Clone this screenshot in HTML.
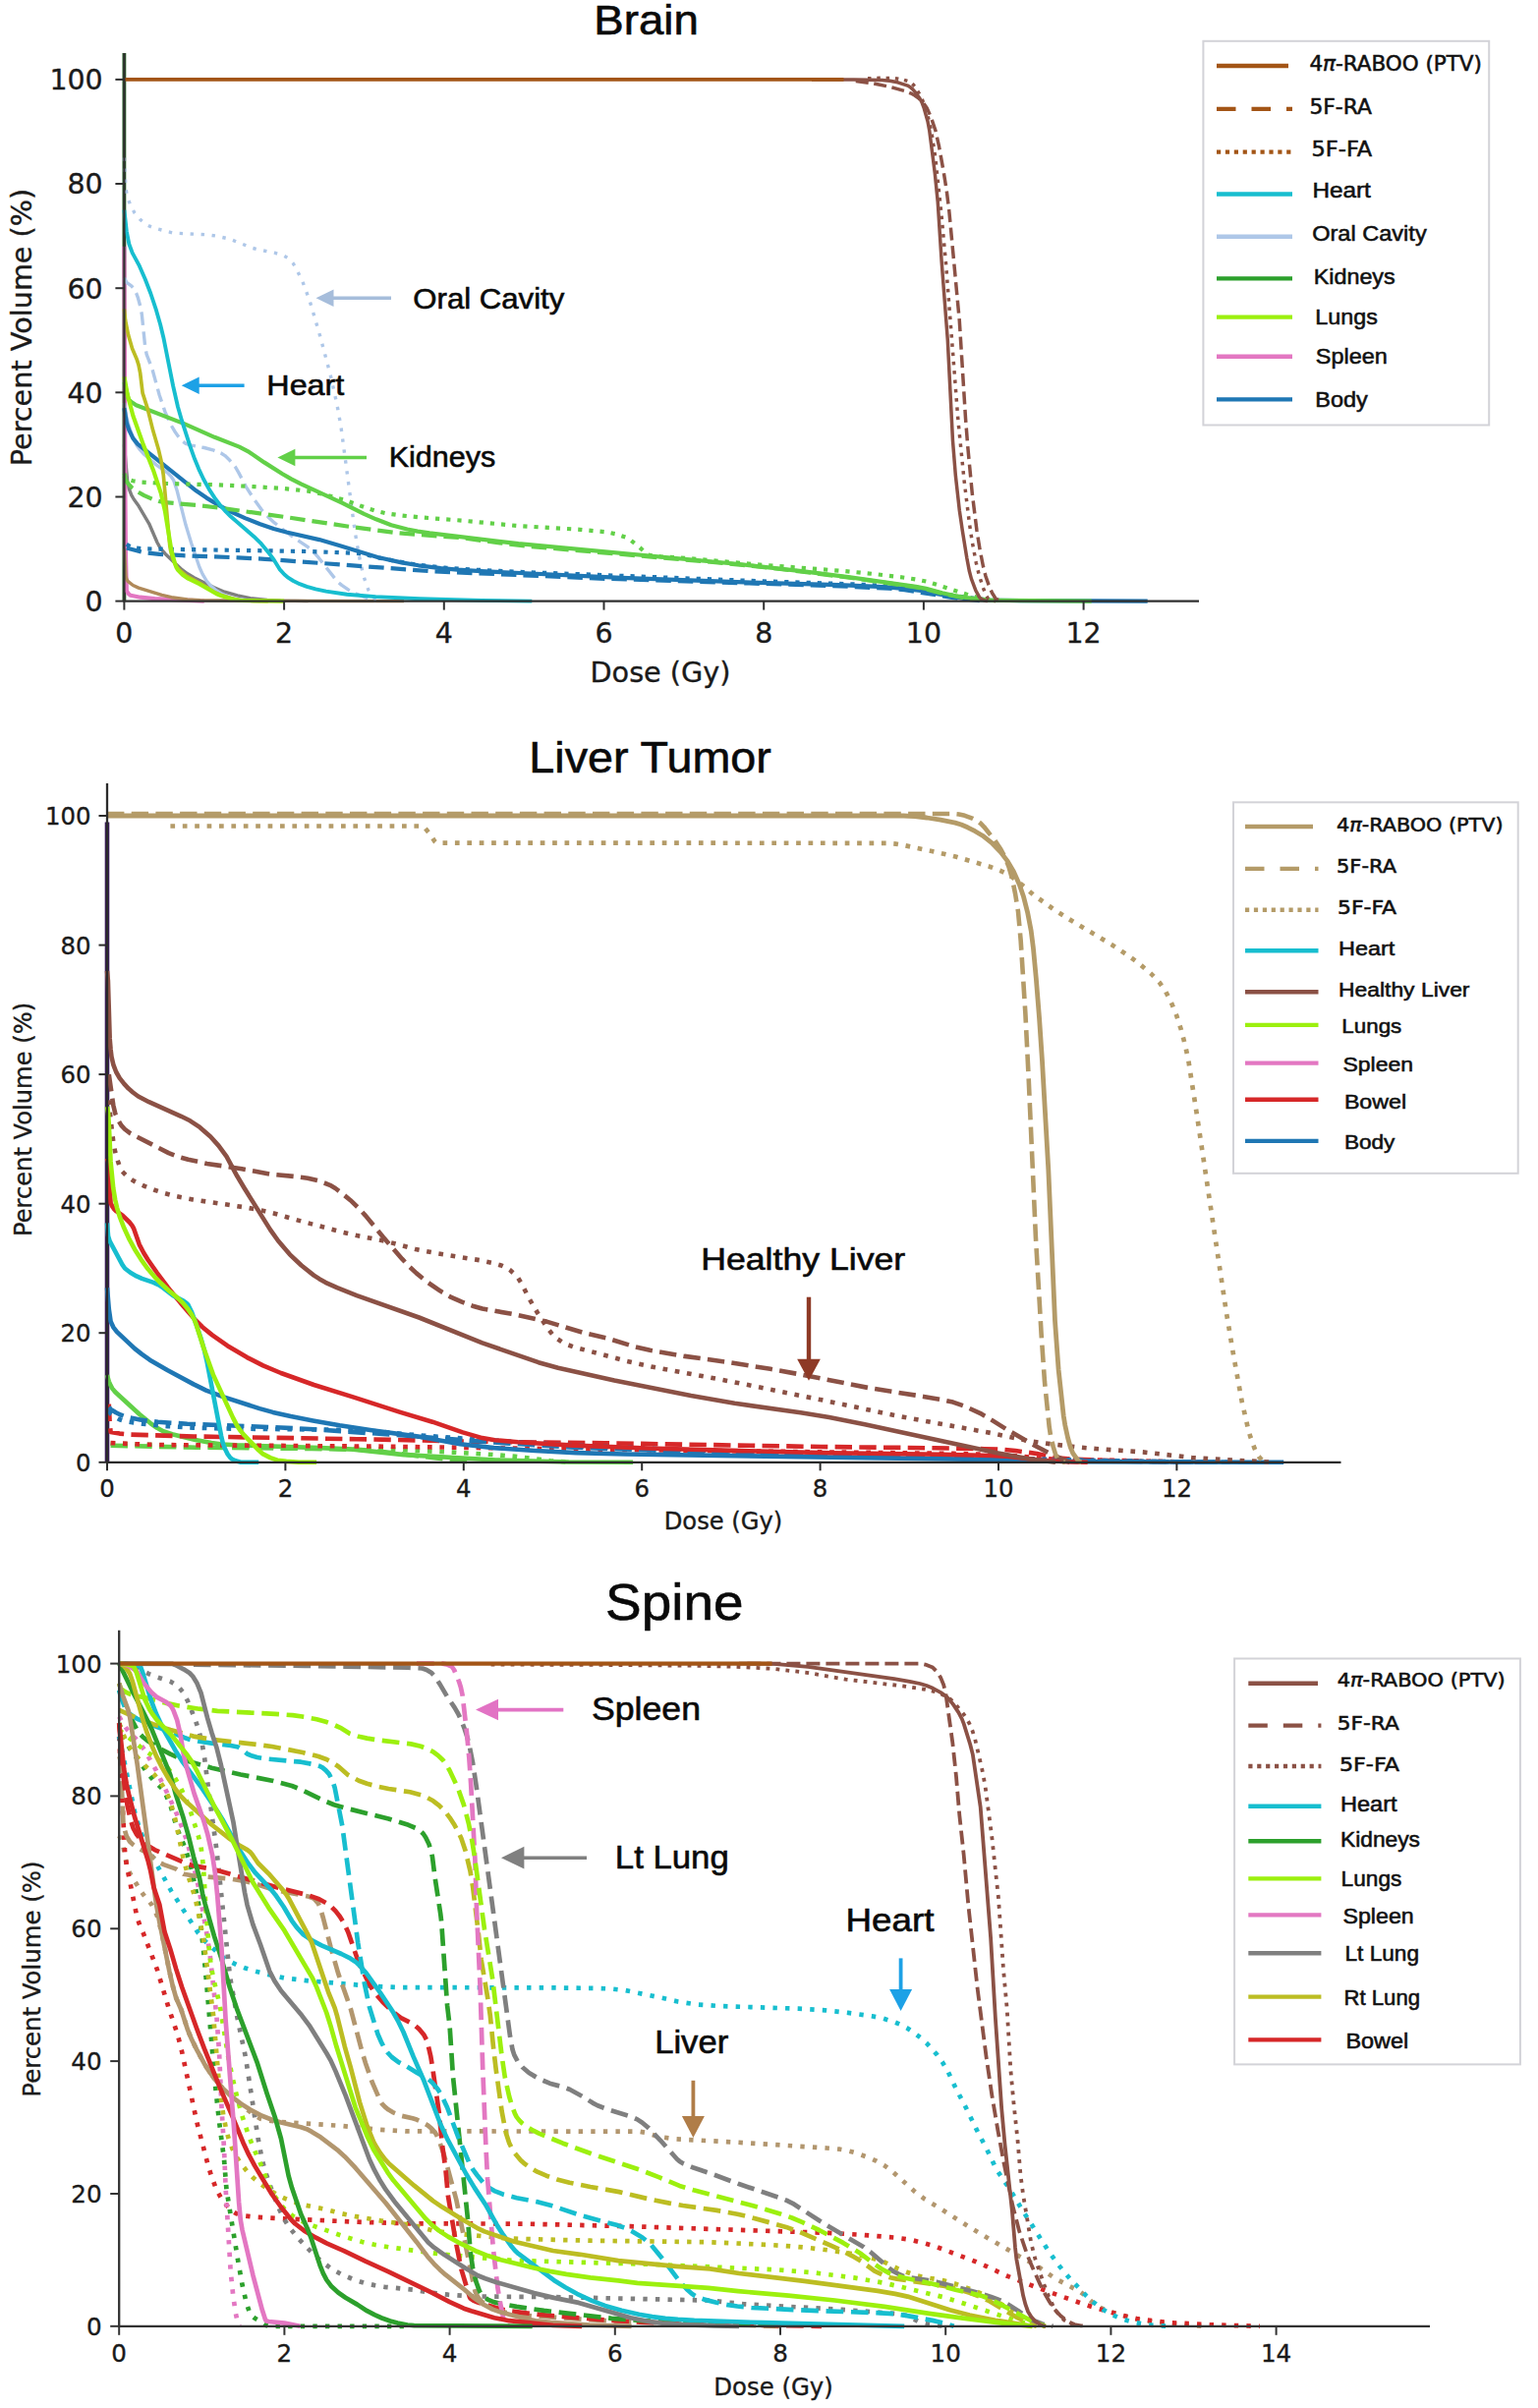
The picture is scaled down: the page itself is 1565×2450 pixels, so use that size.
<!DOCTYPE html>
<html lang="en">
<head>
<meta charset="utf-8">
<title>DVH comparison: Brain, Liver Tumor, Spine</title>
<style>
html,body{margin:0;padding:0;background:#fff;}
body{width:1565px;height:2450px;overflow:hidden;}
svg{display:block;}
text{white-space:pre;}
</style>
</head>
<body>
<svg width="1565" height="2450" viewBox="0 0 1565 2450">
<rect width="1565" height="2450" fill="#ffffff"/>
<path d="M126.4,54 V611.6" stroke="#256325" stroke-width="3.8"/>
<path d="M126.4,452.4 129.7,490.1 131.3,497.3 133.8,503.8 136.2,508 141.1,514.8 151.7,532.8 159.9,551.7 163,557.5 168.1,563.4 185.2,579.7 190.9,583.8 197.5,587.7 217.9,597.8 228.5,602.2 241.6,605.9 254.7,608.6 271.8,610.4 285.7,611.1 313.5,611.6" fill="none" stroke="#7f7f7f" stroke-width="3.4" stroke-linejoin="round"/>
<path d="M126.4,250.7 127.4,505.5 128,566.8 128.8,601 130.5,603.9 132.9,605.8 142.7,607.7 157.3,609.1 207.8,611.6" fill="none" stroke="#e377c2" stroke-width="4.2" stroke-linejoin="round"/>
<path d="M126.4,558.5 128,586.1 128.8,589.2 130.1,591.4 135.3,595.5 141,598.1 164.6,605.4 174.4,607.7 190.7,609.9 203.7,610.8 296.4,611.4 411.1,611.6" fill="none" stroke="#b08a5a" stroke-width="3.4" stroke-linejoin="round"/>
<path d="M126.4,160.5 128,192.3 129.7,200.5 132.9,209.2 137,216.7 142.7,223.4 148.4,228.1 152.4,230.2 157.3,232.1 176,237.1 211,238.8 220.8,240.2 233.8,243.2 256.6,252.3 263.1,254 280.2,257.4 289.1,260.3 292.4,262.2 295.6,265 298,267.6 300.5,271.4 307.8,286.3 315.1,305.9 325.7,341.9 336.3,381.8 342.8,411 346.9,433.6 359.9,531.6 363.1,552.9 366.4,570.5 369.6,584.8 373.7,597.5 375.3,601 378.6,606 381,608.7 382.7,609.5" fill="none" stroke="#aec7e8" stroke-width="3.4" stroke-dasharray="3.4 7.6" stroke-linejoin="round"/>
<path d="M126.4,282.6 128.8,287.3 133.7,290.8 136.2,293.7 138.6,298.2 140.2,302.3 142.7,311.4 144.3,319.7 147.6,351.9 149.2,360.7 154.9,375.4 162.2,402 167.9,418.9 174.4,433.1 177.7,438.7 180.9,443.4 185.8,449 189,451.3 194.7,453.1 207.8,455.5 217.5,458.2 224.8,461 228.9,463.6 233.8,468.3 239.5,475.2 242.7,480.6 250.1,494.8 257.4,506.3 266.3,518.8 273.6,526.8 279.3,531.9 286.7,537.8 300.5,548 312.7,556.2 317.6,560.1 323.3,566.3 341.2,589.1 344.4,592.6 347.7,595.4 355,600.4 362.3,604.2 373.7,608.7 382.7,611.1" fill="none" stroke="#aec7e8" stroke-width="3.4" stroke-dasharray="13.6 6.5" stroke-linejoin="round"/>
<path d="M126.4,409.9 128.8,424.8 131.3,433.9 135.3,445.6 139.4,453.5 142.7,457.9 146.7,462.3 158.9,472.9 170.3,480.9 174.4,485.2 176.8,488.9 180.1,499 189,534.1 194.7,552.7 202.9,577 206.1,584.1 210.2,591 214.3,595.8 220,600.7 224.8,603.8 232.2,607 237.8,608.8 243.5,609.8 254.9,611.2 264.7,611.6" fill="none" stroke="#aec7e8" stroke-width="3.4" stroke-linejoin="round"/>
<path d="M128.8,553.8 132.9,556.3 135.3,557.3 148.4,558.4 311.9,561 363.1,562.8 370.5,563.9 385.9,567.6 403.8,571.1 424.1,574.6 453.4,577.7 486,579.8 532.3,582 777.2,591.4 869.9,594.4 908.2,596.3 922,597.5 939.9,599.9 971.6,606.2 1005,610.5" fill="none" stroke="#1f77b4" stroke-width="4.2" stroke-dasharray="4.2 7" stroke-linejoin="round"/>
<path d="M128.8,557.5 145.9,562.1 162.2,563.8 185.8,565.2 241.9,567.3 269.6,568.8 441.2,581.4 615.3,588.8 855.3,596.4 904.1,598.7 920.4,600.2 970,608.1 996.8,611.1" fill="none" stroke="#1f77b4" stroke-width="4.2" stroke-dasharray="15.5 7" stroke-linejoin="round"/>
<path d="M126.4,415.2 128.8,430.1 131.3,437.6 135.3,445.8 140.2,451.8 199.6,499.3 210.2,506.6 223.2,514.4 235.4,520.8 249.2,527.1 264.7,533.2 278.5,538 291.5,541.5 324.9,549.1 345.2,554.9 384.3,567 408.7,572.4 425.8,575.3 448.5,578.1 465.6,579.7 489.2,581.1 632.4,587.9 764.2,592.6 853.7,595.1 899.2,597.2 917.1,598.6 936.6,601 962.7,606 979.8,608.8 1001.7,610.5 1038.3,611.2 1167.7,611.6" fill="none" stroke="#1f77b4" stroke-width="4.2" stroke-linejoin="round"/>
<path d="M126.4,481.6 128,486.2 128.8,487.4 135.3,489.3 142.7,490.5 167.9,491.9 222.4,493.4 258.2,495.1 289.1,497.1 313.5,499.6 327.3,502.4 350.1,508.6 375.3,517.7 383.5,520.2 393.2,522.3 407.1,524.3 426.6,526.3 469.7,529.6 526.6,535 590.1,538.8 616.9,541.3 628.3,543.7 637.3,546.9 642.2,550 651.1,557.1 657.6,563.2 660.9,564.9 672.3,566.4 699.1,568 775.6,574.8 858.6,581 890.3,584.1 918.7,587.5 933.4,589.7 944,591.9 986.3,605.6 1000.1,609.1 1013.1,611.6" fill="none" stroke="#62d048" stroke-width="4.2" stroke-dasharray="4.2 7" stroke-linejoin="round"/>
<path d="M126.4,484.2 128,488.5 130.5,492.2 134.5,496.4 138.6,499.5 146.7,504.1 154.9,507.8 161.4,509.9 167.9,511.1 202.9,514.3 225.6,517 289.9,526 357.4,536.1 403.8,542.1 421.7,543.7 468.1,547 518.5,553.7 535.6,555.6 717.8,571.3 765.8,575.9 805.7,580.3 862.6,587.5 931.8,597.4 942.3,599.4 960.2,604.2 981.4,608.3 998.5,610.2 1013.1,611.1" fill="none" stroke="#62d048" stroke-width="4.2" stroke-dasharray="15.5 7" stroke-linejoin="round"/>
<path d="M126.4,388.7 130.5,405.3 131.3,406.7 133.7,409 138.6,412.2 187.4,431.1 218.3,444.8 243.5,454.6 252.5,459.3 268.8,470.4 287.5,482.2 296.4,487.4 306.2,492.4 348.5,511.8 370.4,522.9 382.7,528.3 398.1,534.2 414.4,538.5 425,540.6 437.2,542.4 527.5,553.1 752,574 817.9,581.3 865.1,587.3 931.8,596.9 942.3,598.9 958.6,603.3 972.4,606.2 983,608 997.7,609.7 1008.2,610.6 1018.8,610.9 1110.7,611.6" fill="none" stroke="#62d048" stroke-width="4.2" stroke-linejoin="round"/>
<path d="M126.4,213.6 128.8,235.3 131.3,248.1 134.6,257.1 141.9,270.7 147.6,283.8 153.3,298.5 159,315.7 163.1,330 166.3,343.2 176.1,392.5 181,414 185.1,428.2 193.2,453.3 198.1,467.1 202.1,476.8 207.1,487.5 212.8,497.9 218.5,506.6 224.2,514.2 229.9,520.7 234.8,525.6 258.4,545.9 265,552.3 274.7,564.1 278.8,569.7 284.5,579.1 289.4,584.5 293.5,587.9 298.4,591 304.9,594.2 312.2,596.9 321.2,599.4 331.8,601.6 353,604.7 382.3,607.1 427.2,609.2 489.9,610.9 541.3,611.6" fill="none" stroke="#17becf" stroke-width="3.9" stroke-linejoin="round"/>
<path d="M126.4,314.4 127.6,326.1 130.5,340.6 134.5,354.6 139.4,366.1 141,371.1 142.7,379.7 145.1,399.9 150,415.1 155.7,438.1 161.4,457.6 163.8,467.8 166.3,483.4 172.8,555.3 173.6,560.1 175.2,566.2 178.5,574.5 180.1,577.1 182.5,580 189,585.5 203.7,593.6 217.5,602.1 224,605.2 235.4,608.8 243.5,610.5 257.4,611.3 272.8,611.6" fill="none" stroke="#bcbd22" stroke-width="3.7" stroke-linejoin="round"/>
<path d="M126.4,383.4 129.7,401.4 135.3,422.8 145.1,450.4 156.5,479.8 163.8,501.9 167.9,520 174.4,560.1 177.7,572.4 179.3,576.9 180.9,579.8 185.8,584.7 191.5,588.7 202.9,594.2 220,604 224.8,606 232.2,608.3 239.5,610.2 246,611 289.1,611.6" fill="none" stroke="#9cf00e" stroke-width="4.2" stroke-linejoin="round"/>
<path d="M883,79.8 896.3,79.3 910,79.5 919.2,81.1 925.3,83 927,84 929.3,86.1 931.9,89.5 937.8,99.5 942,110.7 945.9,124.7 948.5,138.3 951.8,160.5 958,218.8 962.6,269 974.9,427.4 981.1,489 986.4,532.4 989.3,551.4 993.2,572.3 996.2,584.8 1000.1,597.2 1003,604.9 1005.6,609.3 1009.2,611 1013.1,611.6" fill="none" stroke="#8b5145" stroke-width="3.5" stroke-dasharray="3.5 5.8" stroke-linejoin="round"/>
<path d="M870.8,82.5 888.3,84.8 905.9,88.4 920.9,92.6 926.5,94.8 930.7,97 933.9,99.3 937.2,102.3 940.8,106.5 943.1,109.8 947.3,119.1 951.9,132.7 955.4,148.4 960.3,175.4 963.3,194.4 965.9,215.6 976.3,326.4 982.5,425.4 984.8,454.9 989.3,502.3 993.9,539.3 997.1,559.3 1000.4,576 1003,586.3 1005.9,594.6 1009.5,603.2 1012.8,608.5 1014.1,609.7 1016,610.5 1021.2,611.6" fill="none" stroke="#8b5145" stroke-width="3.5" stroke-dasharray="13 5.6" stroke-linejoin="round"/>
<path d="M826,80.9 868.6,80.9 897.3,81.4 905.4,82.2 913.5,83.8 923.6,87.1 925.9,88.4 928.5,90.6 932.1,94.7 936,100.3 938.3,104.8 940.2,110 944,123.4 945.8,133.3 951.3,176.4 954.2,205 958.1,265.4 964.3,346.2 969.5,448.6 972.4,484.3 976.3,519.2 979.3,539.8 983.8,567.6 986.4,581.3 988.4,588.9 992.9,600.8 996.5,607.4 999.1,609.9 1002.4,611.2 1005,611.6" fill="none" stroke="#8b5145" stroke-width="3.5" stroke-linejoin="round"/>
<path d="M126.4,80.9 858.5,80.9" fill="none" stroke="#a35516" stroke-width="3.6" stroke-linejoin="round"/>
<path d="M126.4,54 V611.6 M125.4,611.6 H1220" fill="none" stroke="#303030" stroke-width="2.3"/>
<path d="M126.4,611.6 v9" stroke="#303030" stroke-width="2"/>
<text x="126.4" y="653.6" font-size="28.4" text-anchor="middle" font-family='"DejaVu Sans", "Liberation Sans", sans-serif' fill="#1a1a1a" stroke="#1a1a1a" stroke-width="0.35">0</text>
<path d="M289.1,611.6 v9" stroke="#303030" stroke-width="2"/>
<text x="289.1" y="653.6" font-size="28.4" text-anchor="middle" font-family='"DejaVu Sans", "Liberation Sans", sans-serif' fill="#1a1a1a" stroke="#1a1a1a" stroke-width="0.35">2</text>
<path d="M451.8,611.6 v9" stroke="#303030" stroke-width="2"/>
<text x="451.8" y="653.6" font-size="28.4" text-anchor="middle" font-family='"DejaVu Sans", "Liberation Sans", sans-serif' fill="#1a1a1a" stroke="#1a1a1a" stroke-width="0.35">4</text>
<path d="M614.5,611.6 v9" stroke="#303030" stroke-width="2"/>
<text x="614.5" y="653.6" font-size="28.4" text-anchor="middle" font-family='"DejaVu Sans", "Liberation Sans", sans-serif' fill="#1a1a1a" stroke="#1a1a1a" stroke-width="0.35">6</text>
<path d="M777.2,611.6 v9" stroke="#303030" stroke-width="2"/>
<text x="777.2" y="653.6" font-size="28.4" text-anchor="middle" font-family='"DejaVu Sans", "Liberation Sans", sans-serif' fill="#1a1a1a" stroke="#1a1a1a" stroke-width="0.35">8</text>
<path d="M939.9,611.6 v9" stroke="#303030" stroke-width="2"/>
<text x="939.9" y="653.6" font-size="28.4" text-anchor="middle" font-family='"DejaVu Sans", "Liberation Sans", sans-serif' fill="#1a1a1a" stroke="#1a1a1a" stroke-width="0.35">10</text>
<path d="M1102.6,611.6 v9" stroke="#303030" stroke-width="2"/>
<text x="1102.6" y="653.6" font-size="28.4" text-anchor="middle" font-family='"DejaVu Sans", "Liberation Sans", sans-serif' fill="#1a1a1a" stroke="#1a1a1a" stroke-width="0.35">12</text>
<path d="M126.4,611.6 h-9" stroke="#303030" stroke-width="2"/>
<text x="104.7" y="622.0" font-size="28.4" text-anchor="end" font-family='"DejaVu Sans", "Liberation Sans", sans-serif' fill="#1a1a1a" stroke="#1a1a1a" stroke-width="0.35">0</text>
<path d="M126.4,505.5 h-9" stroke="#303030" stroke-width="2"/>
<text x="104.7" y="515.8" font-size="28.4" text-anchor="end" font-family='"DejaVu Sans", "Liberation Sans", sans-serif' fill="#1a1a1a" stroke="#1a1a1a" stroke-width="0.35">20</text>
<path d="M126.4,399.3 h-9" stroke="#303030" stroke-width="2"/>
<text x="104.7" y="409.7" font-size="28.4" text-anchor="end" font-family='"DejaVu Sans", "Liberation Sans", sans-serif' fill="#1a1a1a" stroke="#1a1a1a" stroke-width="0.35">40</text>
<path d="M126.4,293.2 h-9" stroke="#303030" stroke-width="2"/>
<text x="104.7" y="303.5" font-size="28.4" text-anchor="end" font-family='"DejaVu Sans", "Liberation Sans", sans-serif' fill="#1a1a1a" stroke="#1a1a1a" stroke-width="0.35">60</text>
<path d="M126.4,187.0 h-9" stroke="#303030" stroke-width="2"/>
<text x="104.7" y="197.4" font-size="28.4" text-anchor="end" font-family='"DejaVu Sans", "Liberation Sans", sans-serif' fill="#1a1a1a" stroke="#1a1a1a" stroke-width="0.35">80</text>
<path d="M126.4,80.9 h-9" stroke="#303030" stroke-width="2"/>
<text x="104.7" y="91.3" font-size="28.4" text-anchor="end" font-family='"DejaVu Sans", "Liberation Sans", sans-serif' fill="#1a1a1a" stroke="#1a1a1a" stroke-width="0.35">100</text>
<text transform="translate(32,333) rotate(-90)" font-size="28.7" text-anchor="middle" font-family='"DejaVu Sans", "Liberation Sans", sans-serif' fill="#1a1a1a" stroke="#1a1a1a" stroke-width="0.35">Percent Volume (%)</text>
<text x="672" y="694" font-size="28.7" text-anchor="middle" font-family='"DejaVu Sans", "Liberation Sans", sans-serif' fill="#1a1a1a" stroke="#1a1a1a" stroke-width="0.35">Dose (Gy)</text>
<text x="604.3" y="35" font-size="42.5" text-anchor="start" font-family='"Liberation Sans", "DejaVu Sans", sans-serif' fill="#0a0a0a" stroke="#0a0a0a" stroke-width="0.6" textLength="106.5" lengthAdjust="spacingAndGlyphs">Brain</text>
<path d="M398,303.2 H337.5" stroke="#a6bddb" stroke-width="3.4" fill="none"/><path d="M321.5,303.2 l18,-8.75 v17.5 z" fill="#a6bddb"/>
<text x="420.3" y="313.7" font-size="30" text-anchor="start" font-family='"Liberation Sans", "DejaVu Sans", sans-serif' fill="#0a0a0a" stroke="#0a0a0a" stroke-width="0.6" textLength="154" lengthAdjust="spacingAndGlyphs">Oral Cavity</text>
<path d="M248.6,392.2 H200.7" stroke="#1da1e6" stroke-width="3.4" fill="none"/><path d="M184.7,392.2 l18,-8.75 v17.5 z" fill="#1da1e6"/>
<text x="271.3" y="402" font-size="30" text-anchor="start" font-family='"Liberation Sans", "DejaVu Sans", sans-serif' fill="#0a0a0a" stroke="#0a0a0a" stroke-width="0.6" textLength="79" lengthAdjust="spacingAndGlyphs">Heart</text>
<path d="M373,465.5 H298.4" stroke="#62d048" stroke-width="3.4" fill="none"/><path d="M282.4,465.5 l18,-8.75 v17.5 z" fill="#62d048"/>
<text x="395.7" y="474.9" font-size="30" text-anchor="start" font-family='"Liberation Sans", "DejaVu Sans", sans-serif' fill="#0a0a0a" stroke="#0a0a0a" stroke-width="0.6" textLength="108.5" lengthAdjust="spacingAndGlyphs">Kidneys</text>
<rect x="1224.4" y="41.8" width="290.79999999999995" height="390.7" fill="#fff" stroke="#d3d3d8" stroke-width="2"/>
<path d="M1238,67 H1311" stroke="#a35516" stroke-width="4.4"/>
<text x="1332.4" y="71.7" font-size="20.8" font-family='"DejaVu Sans", "Liberation Sans", sans-serif' fill="#111" stroke="#111" stroke-width="0.55" textLength="175.5" lengthAdjust="spacingAndGlyphs">4<tspan font-style="italic">π</tspan>-RABOO (PTV)</text>
<path d="M1238,110.9 H1315" stroke="#a35516" stroke-width="4.4" stroke-dasharray="19.5 16"/>
<text x="1332.4" y="115.6" font-size="20.8" font-family='"DejaVu Sans", "Liberation Sans", sans-serif' fill="#111" stroke="#111" stroke-width="0.55" textLength="63.5" lengthAdjust="spacingAndGlyphs">5F-RA</text>
<path d="M1238,154.6 H1315" stroke="#a35516" stroke-width="4.4" stroke-dasharray="4.2 4.7"/>
<text x="1334.6" y="158.8" font-size="20.8" font-family='"DejaVu Sans", "Liberation Sans", sans-serif' fill="#111" stroke="#111" stroke-width="0.55" textLength="61.5" lengthAdjust="spacingAndGlyphs">5F-FA</text>
<path d="M1238,197.5 H1315" stroke="#17becf" stroke-width="4.4"/>
<text x="1335.4" y="201.3" font-size="22.5" font-family='"Liberation Sans", "DejaVu Sans", sans-serif' fill="#111" stroke="#111" stroke-width="0.55" textLength="59.5" lengthAdjust="spacingAndGlyphs">Heart</text>
<path d="M1238,240.7 H1315" stroke="#aec7e8" stroke-width="4.4"/>
<text x="1335.2" y="244.8" font-size="22.5" font-family='"Liberation Sans", "DejaVu Sans", sans-serif' fill="#111" stroke="#111" stroke-width="0.55" textLength="116.5" lengthAdjust="spacingAndGlyphs">Oral Cavity</text>
<path d="M1238,283.4 H1315" stroke="#2ca02c" stroke-width="4.4"/>
<text x="1336.7" y="289.2" font-size="22.5" font-family='"Liberation Sans", "DejaVu Sans", sans-serif' fill="#111" stroke="#111" stroke-width="0.55" textLength="83" lengthAdjust="spacingAndGlyphs">Kidneys</text>
<path d="M1238,322.6 H1315" stroke="#9cf00e" stroke-width="4.4"/>
<text x="1338.3" y="330.2" font-size="22.5" font-family='"Liberation Sans", "DejaVu Sans", sans-serif' fill="#111" stroke="#111" stroke-width="0.55" textLength="63.5" lengthAdjust="spacingAndGlyphs">Lungs</text>
<path d="M1238,362.7 H1315" stroke="#e377c2" stroke-width="4.4"/>
<text x="1338.8" y="370.4" font-size="22.5" font-family='"Liberation Sans", "DejaVu Sans", sans-serif' fill="#111" stroke="#111" stroke-width="0.55" textLength="73" lengthAdjust="spacingAndGlyphs">Spleen</text>
<path d="M1238,406.4 H1315" stroke="#1f77b4" stroke-width="4.4"/>
<text x="1338.3" y="413.8" font-size="22.5" font-family='"Liberation Sans", "DejaVu Sans", sans-serif' fill="#111" stroke="#111" stroke-width="0.55" textLength="53.5" lengthAdjust="spacingAndGlyphs">Body</text>
<path d="M109.0,836.6 V1487.8" stroke="#3a1a5a" stroke-width="4.6"/>
<path d="M112.6,1470.7 199.9,1472.7 317.2,1473.9 363.6,1474.8 385.4,1476.6 480.9,1487.8" fill="none" stroke="#62d048" stroke-width="4.6" stroke-dasharray="17.4 7.3" stroke-linejoin="round"/>
<path d="M112.6,1468.7 195.2,1471.3 339.4,1473 389.3,1474.3 460.9,1477.6 502.6,1480.1 524.4,1481.9 559.8,1486.2 580.6,1487.8" fill="none" stroke="#62d048" stroke-width="4.6" stroke-dasharray="4.7 7.7" stroke-linejoin="round"/>
<path d="M109,1399 110.8,1405.6 112.6,1409.7 114.4,1412.9 117.2,1416.3 141.7,1438.8 153.4,1448.3 159.8,1452.8 166.1,1456.2 175.2,1459.2 198.8,1464.9 215.1,1468 226,1469.5 239.6,1470.3 325.8,1473.1 359.3,1474.6 411,1480.1 504.5,1485.5 578.8,1487.5 644.1,1487.8" fill="none" stroke="#62d048" stroke-width="4.6" stroke-linejoin="round"/>
<path d="M112.6,1468.1 146.2,1469.6 168,1470.1 383.8,1471.6 597.9,1474.6 970.7,1478.9 1021.4,1480.1 1060.4,1483.9 1076.8,1484.7 1224.6,1487.8" fill="none" stroke="#d62728" stroke-width="4.6" stroke-dasharray="4.7 7.7" stroke-linejoin="round"/>
<path d="M110.8,1428.6 111.7,1448.3 112.6,1456.9 121.7,1458.6 132.6,1459.6 197,1461.5 363,1464.2 480,1466.6 615.1,1468.3 835.5,1472 950.7,1473.3 1001.5,1474.2 1019.6,1474.8 1033.2,1476 1055,1479 1075,1483.3 1086.7,1484.3 1109.4,1485.4 1159.3,1486.8 1224.6,1487.8" fill="none" stroke="#d62728" stroke-width="4.6" stroke-dasharray="17.4 7.3" stroke-linejoin="round"/>
<path d="M110.8,1435.2 112.6,1438.5 116.3,1441.3 121.7,1444.3 127.1,1446.1 145.3,1448.7 170.7,1451.1 196.1,1452.6 225.1,1453.5 336.7,1454.6 367.5,1455.2 383.8,1456.3 421.9,1460 461.8,1462.9 547.1,1468.5 596.1,1471.2 706.7,1475.5 840.9,1479.4 1006.9,1483 1104,1485.8 1187.4,1487.2 1251.8,1487.8" fill="none" stroke="#1f77b4" stroke-width="4.6" stroke-dasharray="4.7 7.7" stroke-linejoin="round"/>
<path d="M110.8,1431.9 112.6,1433.9 118.1,1437.3 122.6,1439.5 128,1441.5 142.6,1444.5 160.7,1446.8 190.6,1448.7 285.9,1452.5 319.4,1454.3 408.3,1460.3 498.1,1467.3 584.3,1472.6 699.5,1476.9 873.6,1481.5 1096.7,1486.3 1251.8,1487.8" fill="none" stroke="#1f77b4" stroke-width="4.6" stroke-dasharray="17.4 7.3" stroke-linejoin="round"/>
<path d="M109,1310.2 110.8,1331.9 112.6,1344.4 115.3,1350.3 119,1355.1 137.1,1372.1 144.4,1377.9 152.5,1383.7 170.7,1394.3 197,1408.4 209.7,1414.6 226.9,1421.1 264.1,1433.1 277.7,1436.9 295.8,1441.1 318.5,1445.5 345.7,1450.3 378.4,1455.3 425.5,1461.6 468.2,1469.3 502.6,1473.1 544.4,1476 586.1,1478.1 636,1479.5 997.9,1484.9 1098.5,1487.1 1306.2,1487.8" fill="none" stroke="#1f77b4" stroke-width="4.6" stroke-linejoin="round"/>
<path d="M109,1178.6 110.1,1181.9 112.6,1224 114.4,1227.7 116.3,1230.3 118.1,1232.1 124.4,1236.3 131.7,1243.5 134.4,1246.9 136.2,1250.2 141.7,1266.1 146.2,1274.8 150.7,1282 159.8,1295 170.7,1309.7 187,1329.6 197.9,1342.1 206,1350.2 216,1358.4 231.4,1369.2 251.4,1381.1 267.7,1389.4 285.9,1397 319.4,1409 358.4,1421.1 406.5,1436.6 440.1,1446.7 470.9,1457.4 490.8,1463.1 503.5,1465.2 527.1,1467.3 583.4,1470.6 659.5,1473.5 754.8,1476.1 845.5,1478.2 957,1479.7 1008.7,1481 1025.1,1481.8 1059.5,1485.7 1085.8,1487.2 1106.7,1487.8" fill="none" stroke="#d62728" stroke-width="4.6" stroke-linejoin="round"/>
<path d="M110.8,1119.4 112.6,1139.2 115.3,1161.8 117.2,1172.1 119,1178.7 121.7,1186.6 124.4,1191.9 129.9,1197.5 136.2,1201.6 147.1,1206.8 157.1,1210.7 168,1214.2 178.8,1217 196.1,1220.4 249.6,1228.4 265,1231.2 278.6,1234.5 307.6,1242.8 347.5,1253.4 363,1257 392.9,1263 422.8,1271 444.6,1275.2 488.1,1282.2 501.7,1285.1 510.8,1287.8 515.3,1289.8 519,1292.2 523.5,1296.2 527.1,1300.1 530.8,1306 538,1320.4 547.1,1336 557.1,1351.2 562.5,1358.3 566.1,1361.5 571.6,1365.2 577.9,1368.3 584.3,1370.6 636.9,1384.6 663.2,1390.6 733.9,1403.7 769.3,1410.7 837.3,1424.6 913.5,1440.7 1007.8,1457.9 1049.6,1466.5 1071.3,1469.5 1094.9,1472.2 1114.9,1474 1162.9,1477.4 1212.8,1483 1244.6,1485.1 1297.2,1487.8" fill="none" stroke="#8b5145" stroke-width="4.6" stroke-dasharray="4.7 7.7" stroke-linejoin="round"/>
<path d="M110.8,1093.1 115.3,1124.4 117.2,1132.6 119.9,1139.1 123.5,1145.1 127.1,1149 132.6,1153.1 171.6,1173.1 179.7,1176.4 191.5,1179.8 210.6,1183.9 246,1189.2 275,1194.6 304,1197.4 313.1,1198.7 324,1201.3 335.8,1205.8 341.2,1209 347.5,1213.7 356.6,1221.2 363.9,1228.2 372,1236.9 390.2,1259 409.2,1280.9 416.5,1288.7 423.7,1295.4 434.6,1304.3 448.2,1313.6 459.1,1319.9 470,1324.7 480.9,1328.7 490.8,1331.5 525.3,1337.7 556.2,1344.6 594.2,1356.1 617.8,1361.5 645.9,1370.2 661.4,1373.8 696.7,1379.9 741.2,1386 783.8,1392.8 815.6,1398.6 883.6,1412 939.8,1420.9 958.9,1424.2 969.7,1426.6 982.4,1431.1 998.8,1438.7 1006,1442.8 1024.2,1454.3 1050.5,1469.5 1070.4,1479.9 1088.6,1487.8" fill="none" stroke="#8b5145" stroke-width="4.6" stroke-dasharray="17.4 7.3" stroke-linejoin="round"/>
<path d="M109,987.9 109.9,997.6 111.7,1056.9 112.6,1067.7 113.5,1075.3 115.3,1083.1 118.1,1090.5 121.7,1096.8 126.2,1102.6 130.8,1107.6 135.3,1111.5 140.7,1115.5 151.6,1121.2 184.3,1135.8 193.4,1140.3 203.3,1146.9 214.2,1156.5 222.4,1165.6 230.5,1176.7 241.4,1196.8 248.7,1209 275,1251.1 283.1,1262.5 294.9,1276.3 306.7,1287.5 319.4,1297.6 324.9,1301.2 331.2,1304.8 343,1310.2 363,1318.2 426.4,1340.5 490.8,1366.4 548,1386.2 567.9,1391.8 625.1,1404.5 703.1,1420 747.5,1427.8 814.6,1437.3 843.7,1442 880,1449.3 1013.3,1478.1 1046.8,1484.3 1074,1487.8" fill="none" stroke="#8b5145" stroke-width="4.6" stroke-linejoin="round"/>
<path d="M109,1244.4 110.1,1257.6 111.7,1262.9 124.4,1286.6 127.1,1290.5 132.6,1294.8 138.9,1298.4 144.4,1300.9 156.2,1304.9 161.6,1307.4 166.1,1310.4 176.1,1318.1 187,1323.8 189.7,1325.8 191.5,1327.7 195.2,1335.2 200.6,1350.2 204.2,1361 207.9,1373.7 210.6,1385.5 225.1,1461 226.9,1468.7 228.7,1473.5 231.4,1479.1 234.2,1483 236,1484.5 239.6,1486.3 245,1487.8 263.2,1487.8" fill="none" stroke="#17becf" stroke-width="4.6" stroke-linejoin="round"/>
<path d="M109,1126 110.1,1132.6 110.8,1143.7 112.6,1181.9 115.3,1209.2 117.2,1220.7 119,1228.6 121.7,1237.6 126.2,1249.3 131.7,1261.2 137.1,1271.2 143.5,1281.3 150.7,1291.3 157.1,1298.8 163.4,1305.3 171.6,1313 181.6,1321.3 186.1,1325.6 191.5,1332.2 195.2,1337.8 197.9,1343 199.7,1347.8 207,1370.7 216.9,1398.6 236.9,1442.1 241.4,1450.9 245,1456.1 248.7,1460.4 263.2,1475.6 267.7,1479.4 275,1483.1 282.2,1485.7 291.3,1486.9 304,1487.7 322.1,1487.8" fill="none" stroke="#9cf00e" stroke-width="4.6" stroke-linejoin="round"/>
<path d="M173.4,840.5 429.2,840.5 431,841.2 432.8,842.9 437.9,849.1 442.3,856 443.4,857.1 444.6,857.6 902.7,857.8 911.5,858.6 921.2,860.3 955,867.5 973.1,871.8 1006.9,881.7 1017.8,885.8 1026.8,890.2 1034.1,895.3 1051.5,910.3 1071.8,924.9 1086.7,934.5 1131.3,961.2 1148,972.2 1158.6,979.9 1171.6,991 1180,999.9 1186.1,1008.7 1192.3,1021.1 1197.4,1033.7 1201.7,1047.1 1206.1,1063.8 1209.4,1079.5 1217.7,1132.9 1247.8,1334.8 1255.1,1378.6 1263.8,1426.5 1270.3,1454.9 1272.5,1462.3 1276.5,1473.5 1278.7,1478.4 1280.8,1481.9 1284.8,1486.2 1286.6,1487.4 1288.1,1487.8" fill="none" stroke="#b49b68" stroke-width="4.7" stroke-dasharray="4.7 7.7" stroke-linejoin="round"/>
<path d="M109,828 970.8,828 975.9,828.5 981.7,829.8 989.3,832.6 994.8,835.3 998,837.9 1001.3,841.3 1012.5,855.3 1018.3,864 1023.1,873.2 1026.7,882.5 1030,894.1 1033.2,910 1036,927.4 1038.7,957.3 1043.4,1031.3 1046.6,1095.1 1053.9,1258.6 1059.7,1359 1063,1406.1 1067.7,1451.9 1069.1,1461 1071.7,1471.9 1073.9,1479.2 1076,1483.7 1080,1486.7 1082.2,1487.6 1084,1487.8" fill="none" stroke="#b49b68" stroke-width="4.6" stroke-dasharray="17.4 7.3" stroke-linejoin="round"/>
<path d="M109,830 919.3,830 930.9,830.7 943.2,832 957,834.2 971.9,837.1 978.1,839 984.6,841.8 992.2,845.7 999.8,850.2 1008.9,857.4 1018.3,867.1 1025.2,876.1 1031.4,886.7 1037.2,899.7 1041.6,912.6 1045.6,928.3 1049.2,947 1051.4,964.4 1054.3,995.3 1057.5,1035.2 1060.4,1078 1066.8,1189.8 1073.5,1343.8 1077.1,1393.5 1082.2,1440.3 1083.7,1449.7 1086.6,1463 1089.1,1472 1091.6,1478.3 1096.7,1485.7 1098.5,1487.2 1100.4,1487.8" fill="none" stroke="#b49b68" stroke-width="4.8" stroke-linejoin="round"/>
<path d="M109.0,797 V1487.8 M108.0,1487.8 H1364.5" fill="none" stroke="#2b2b2b" stroke-width="2.3"/>
<path d="M109.0,1487.8 v8.5" stroke="#2b2b2b" stroke-width="2"/>
<text x="109.0" y="1522.5" font-size="24.4" text-anchor="middle" font-family='"DejaVu Sans", "Liberation Sans", sans-serif' fill="#1a1a1a" stroke="#1a1a1a" stroke-width="0.35">0</text>
<path d="M290.4,1487.8 v8.5" stroke="#2b2b2b" stroke-width="2"/>
<text x="290.4" y="1522.5" font-size="24.4" text-anchor="middle" font-family='"DejaVu Sans", "Liberation Sans", sans-serif' fill="#1a1a1a" stroke="#1a1a1a" stroke-width="0.35">2</text>
<path d="M471.8,1487.8 v8.5" stroke="#2b2b2b" stroke-width="2"/>
<text x="471.8" y="1522.5" font-size="24.4" text-anchor="middle" font-family='"DejaVu Sans", "Liberation Sans", sans-serif' fill="#1a1a1a" stroke="#1a1a1a" stroke-width="0.35">4</text>
<path d="M653.2,1487.8 v8.5" stroke="#2b2b2b" stroke-width="2"/>
<text x="653.2" y="1522.5" font-size="24.4" text-anchor="middle" font-family='"DejaVu Sans", "Liberation Sans", sans-serif' fill="#1a1a1a" stroke="#1a1a1a" stroke-width="0.35">6</text>
<path d="M834.6,1487.8 v8.5" stroke="#2b2b2b" stroke-width="2"/>
<text x="834.6" y="1522.5" font-size="24.4" text-anchor="middle" font-family='"DejaVu Sans", "Liberation Sans", sans-serif' fill="#1a1a1a" stroke="#1a1a1a" stroke-width="0.35">8</text>
<path d="M1016.0,1487.8 v8.5" stroke="#2b2b2b" stroke-width="2"/>
<text x="1016.0" y="1522.5" font-size="24.4" text-anchor="middle" font-family='"DejaVu Sans", "Liberation Sans", sans-serif' fill="#1a1a1a" stroke="#1a1a1a" stroke-width="0.35">10</text>
<path d="M1197.4,1487.8 v8.5" stroke="#2b2b2b" stroke-width="2"/>
<text x="1197.4" y="1522.5" font-size="24.4" text-anchor="middle" font-family='"DejaVu Sans", "Liberation Sans", sans-serif' fill="#1a1a1a" stroke="#1a1a1a" stroke-width="0.35">12</text>
<path d="M109.0,1487.8 h-8.5" stroke="#2b2b2b" stroke-width="2"/>
<text x="92.6" y="1496.7" font-size="24.4" text-anchor="end" font-family='"DejaVu Sans", "Liberation Sans", sans-serif' fill="#1a1a1a" stroke="#1a1a1a" stroke-width="0.35">0</text>
<path d="M109.0,1356.2 h-8.5" stroke="#2b2b2b" stroke-width="2"/>
<text x="92.6" y="1365.1" font-size="24.4" text-anchor="end" font-family='"DejaVu Sans", "Liberation Sans", sans-serif' fill="#1a1a1a" stroke="#1a1a1a" stroke-width="0.35">20</text>
<path d="M109.0,1224.7 h-8.5" stroke="#2b2b2b" stroke-width="2"/>
<text x="92.6" y="1233.6" font-size="24.4" text-anchor="end" font-family='"DejaVu Sans", "Liberation Sans", sans-serif' fill="#1a1a1a" stroke="#1a1a1a" stroke-width="0.35">40</text>
<path d="M109.0,1093.1 h-8.5" stroke="#2b2b2b" stroke-width="2"/>
<text x="92.6" y="1102.0" font-size="24.4" text-anchor="end" font-family='"DejaVu Sans", "Liberation Sans", sans-serif' fill="#1a1a1a" stroke="#1a1a1a" stroke-width="0.35">60</text>
<path d="M109.0,961.6 h-8.5" stroke="#2b2b2b" stroke-width="2"/>
<text x="92.6" y="970.5" font-size="24.4" text-anchor="end" font-family='"DejaVu Sans", "Liberation Sans", sans-serif' fill="#1a1a1a" stroke="#1a1a1a" stroke-width="0.35">80</text>
<path d="M109.0,830.0 h-8.5" stroke="#2b2b2b" stroke-width="2"/>
<text x="92.6" y="838.9" font-size="24.4" text-anchor="end" font-family='"DejaVu Sans", "Liberation Sans", sans-serif' fill="#1a1a1a" stroke="#1a1a1a" stroke-width="0.35">100</text>
<text transform="translate(31.5,1139) rotate(-90)" font-size="24.2" text-anchor="middle" font-family='"DejaVu Sans", "Liberation Sans", sans-serif' fill="#1a1a1a" stroke="#1a1a1a" stroke-width="0.35">Percent Volume (%)</text>
<text x="736" y="1556" font-size="24.2" text-anchor="middle" font-family='"DejaVu Sans", "Liberation Sans", sans-serif' fill="#1a1a1a" stroke="#1a1a1a" stroke-width="0.35">Dose (Gy)</text>
<text x="538.3" y="785.9" font-size="45" text-anchor="start" font-family='"Liberation Sans", "DejaVu Sans", sans-serif' fill="#0a0a0a" stroke="#0a0a0a" stroke-width="0.6" textLength="246.5" lengthAdjust="spacingAndGlyphs">Liver Tumor</text>
<text x="713.2" y="1292" font-size="32" text-anchor="start" font-family='"Liberation Sans", "DejaVu Sans", sans-serif' fill="#0a0a0a" stroke="#0a0a0a" stroke-width="0.6" textLength="208" lengthAdjust="spacingAndGlyphs">Healthy Liver</text>
<path d="M823,1319.7 V1384.7" stroke="#8e3a26" stroke-width="4.4" fill="none"/><path d="M823,1404.7 l-11.85,-22 h23.7 z" fill="#8e3a26"/>
<rect x="1255" y="816.3" width="289.70000000000005" height="377.5" fill="#fff" stroke="#d3d3d8" stroke-width="2"/>
<path d="M1267,841 H1336" stroke="#b49b68" stroke-width="4.4"/>
<text x="1360" y="846.4" font-size="19.4" font-family='"DejaVu Sans", "Liberation Sans", sans-serif' fill="#111" stroke="#111" stroke-width="0.55" textLength="169.5" lengthAdjust="spacingAndGlyphs">4<tspan font-style="italic">π</tspan>-RABOO (PTV)</text>
<path d="M1267,883.9 H1341.5" stroke="#b49b68" stroke-width="4.4" stroke-dasharray="19.5 16"/>
<text x="1360" y="887.8" font-size="19.4" font-family='"DejaVu Sans", "Liberation Sans", sans-serif' fill="#111" stroke="#111" stroke-width="0.55" textLength="61" lengthAdjust="spacingAndGlyphs">5F-RA</text>
<path d="M1267,925.7 H1341.5" stroke="#b49b68" stroke-width="4.4" stroke-dasharray="4.2 4.7"/>
<text x="1361" y="930" font-size="19.4" font-family='"DejaVu Sans", "Liberation Sans", sans-serif' fill="#111" stroke="#111" stroke-width="0.55" textLength="60" lengthAdjust="spacingAndGlyphs">5F-FA</text>
<path d="M1267,967.3 H1341.5" stroke="#17becf" stroke-width="4.4"/>
<text x="1362" y="972" font-size="21" font-family='"Liberation Sans", "DejaVu Sans", sans-serif' fill="#111" stroke="#111" stroke-width="0.55" textLength="57.3" lengthAdjust="spacingAndGlyphs">Heart</text>
<path d="M1267,1009.3 H1341.5" stroke="#8b5145" stroke-width="4.4"/>
<text x="1362" y="1014.1" font-size="21" font-family='"Liberation Sans", "DejaVu Sans", sans-serif' fill="#111" stroke="#111" stroke-width="0.55" textLength="133.5" lengthAdjust="spacingAndGlyphs">Healthy Liver</text>
<path d="M1267,1042.9 H1341.5" stroke="#9cf00e" stroke-width="4.4"/>
<text x="1365.3" y="1050.9" font-size="21" font-family='"Liberation Sans", "DejaVu Sans", sans-serif' fill="#111" stroke="#111" stroke-width="0.55" textLength="61" lengthAdjust="spacingAndGlyphs">Lungs</text>
<path d="M1267,1081.6 H1341.5" stroke="#e377c2" stroke-width="4.4"/>
<text x="1366.5" y="1089.7" font-size="21" font-family='"Liberation Sans", "DejaVu Sans", sans-serif' fill="#111" stroke="#111" stroke-width="0.55" textLength="71.5" lengthAdjust="spacingAndGlyphs">Spleen</text>
<path d="M1267,1118.7 H1341.5" stroke="#d62728" stroke-width="4.4"/>
<text x="1367.9" y="1127.8" font-size="21" font-family='"Liberation Sans", "DejaVu Sans", sans-serif' fill="#111" stroke="#111" stroke-width="0.55" textLength="63.2" lengthAdjust="spacingAndGlyphs">Bowel</text>
<path d="M1267,1160.9 H1341.5" stroke="#1f77b4" stroke-width="4.4"/>
<text x="1367.9" y="1168.8" font-size="21" font-family='"Liberation Sans", "DejaVu Sans", sans-serif' fill="#111" stroke="#111" stroke-width="0.55" textLength="51.5" lengthAdjust="spacingAndGlyphs">Body</text>
<path d="M121.2,1867.9 122.9,1871.1 125.4,1878.7 128.8,1896.3 129.6,1899.6 132.1,1905.8 143.9,1925 147.3,1929.6 152.3,1935.3 154.8,1938.7 158.2,1945.1 160.7,1951.5 164.9,1968.3 172.5,2006.2 177.5,2027.6 179.2,2032.8 184.3,2044.5 191.8,2067.5 198.6,2082.4 206.1,2096.5 212,2106.3 217.9,2114.6 223.8,2121.7 231.4,2129.2 252.4,2147.2 260.8,2153.2 265,2155.6 272.6,2157.4 285.2,2158.9 347.4,2162.9 387,2166.8 413.9,2168.4 650.2,2168.6 656.1,2169.6 669.5,2173.8 688,2176.4 750.3,2179.7 841.1,2185.5 854.6,2186.7 861.3,2187.8 870.5,2190.3 884,2195.2 891.6,2198.6 900,2203.4 906.7,2208.1 930.2,2229.3 941.2,2237.7 958.8,2248.3 980.7,2262.3 1000,2274.1 1037,2295.5 1055.6,2305.6 1073.2,2317.9 1099.3,2331.9 1103.5,2335 1113.6,2344.3 1118.6,2347.4 1126.2,2350.7 1135.4,2353.8 1152.3,2358.5 1164,2361.2 1187.6,2364.2 1222.9,2366.8" fill="none" stroke="#b2966e" stroke-width="4.7" stroke-dasharray="4.4 8.2" stroke-linejoin="round"/>
<path d="M121.2,1766.8 127.1,1884.7 128.8,1897.5 138.9,1948.1 141.4,1956.5 146.4,1968.3 159.9,2003.8 171.7,2043.2 180.9,2070.6 185.1,2087.5 200.3,2159.1 212,2204.1 215.4,2214.9 220.4,2228.2 225.5,2237.2 228.8,2241.7 233.9,2247.4 236.4,2249.7 239.8,2251.8 243.1,2253.3 246.5,2254.2 260.8,2255.8 283.5,2257.1 364.2,2260.7 415.6,2262.3 534.1,2262.6 641.8,2265.2 843.6,2271.9 875.6,2273.7 911.7,2276.7 921.8,2278.1 929.4,2279.5 941.2,2282.5 952.1,2285.7 993.3,2301.3 1002.6,2305.3 1025.3,2315.9 1057.2,2328.2 1091.7,2340.5 1110.2,2346.7 1126.2,2351.5 1147.2,2357 1156.5,2359.1 1164.9,2360.4 1192.6,2363.3 1231.3,2365.3 1281.8,2366.8" fill="none" stroke="#d62728" stroke-width="4.7" stroke-dasharray="4.4 8.2" stroke-linejoin="round"/>
<path d="M121.2,1753.3 126.2,1768.3 132.1,1779.1 151.5,1805.8 155.7,1810.8 164.9,1819.8 167.5,1823.4 169.1,1826.6 174.2,1839.4 180.1,1860.2 186.8,1876.4 191,1888.2 195.2,1903.2 201.1,1931.4 202.8,1941.4 204.5,1962.3 207,1983.2 211.2,2029.7 218.8,2119.8 223,2158.3 228,2196.9 230.5,2227.9 242.3,2300.9 246.5,2324.6 250.7,2343 254.1,2353.3 255.8,2355.7 259.1,2358.6 265,2362.1 270.1,2365.7 273.4,2366.8 415.6,2366.8" fill="none" stroke="#2ca02c" stroke-width="4.7" stroke-dasharray="4.4 8.2" stroke-linejoin="round"/>
<path d="M121.2,1766.8 137.2,1844.4 142.2,1861.5 148.1,1876.3 174.2,1923.9 201.9,1967.1 208.7,1974.9 223,1988 228,1992.2 233.1,1995.3 240.6,1999 249,2002.3 258.3,2005.2 272.6,2008.9 290.2,2012.6 314.6,2015.4 381.1,2021 406.3,2022.1 559.4,2022.4 609.8,2023 620.8,2023.4 635.9,2025 672.9,2032.6 689.7,2036.5 709.1,2039.4 730.9,2041 812.5,2043.7 839.4,2045.3 863,2047.9 887.4,2051.3 899.1,2053.8 910.9,2057.7 916.8,2060.1 922.7,2063.3 929.4,2067.7 937,2073.5 942.9,2078.8 948.7,2085 953.8,2091 958.8,2097.9 964.7,2107.9 972.3,2124.1 983.2,2145 993.3,2165.9 1004.2,2186.8 1011.8,2202.9 1015.2,2209.1 1027.8,2227.9 1041.3,2250.2 1067.3,2290.9 1078.3,2305.9 1088.4,2318.1 1105.2,2335.6 1111.1,2341.2 1122,2349.6 1130.4,2354.7 1143,2359.9 1153.9,2362.9 1170.8,2365.7 1189.3,2366.8" fill="none" stroke="#17becf" stroke-width="4.7" stroke-dasharray="4.4 8.2" stroke-linejoin="round"/>
<path d="M121.2,1753.3 127.1,1768.5 132.1,1778.2 138.9,1786.9 148.1,1796.9 157.4,1806 162.4,1812.2 165.8,1817.2 169.1,1823.2 171.7,1828.7 174.2,1835.9 178.4,1851.2 186.8,1892.2 191.8,1909.7 198.6,1930.6 207,1972.4 217.1,2050.6 223,2121.1 227.2,2151.5 230.5,2168.6 233.1,2177.3 236.4,2186.1 240.6,2194.4 245.7,2202.1 251.6,2209.5 257.4,2215.5 265,2222 273.4,2227.9 281.8,2232.9 291.1,2237.3 301.2,2241 310.4,2243.6 329.8,2247.5 348.3,2252.3 360.9,2254.9 387,2259.4 419.8,2264 425.6,2265.3 439.9,2269.4 460.1,2272.2 507.2,2276.7 530.8,2278 600.6,2279.7 720.8,2281.2 781.4,2283.9 804.1,2285.3 820.9,2286.8 845.3,2289.7 863.8,2292.6 881.5,2296 894.9,2299.7 900.8,2302 914.3,2308.5 931.1,2314.9 938.7,2316.7 954.6,2319.3 962.2,2320.9 973.1,2324 987.4,2329 1000,2334.1 1012.7,2340.3 1039.6,2357.6 1045.5,2361 1055.6,2364.8 1064,2366.8" fill="none" stroke="#bcbd22" stroke-width="4.7" stroke-dasharray="4.4 8.2" stroke-linejoin="round"/>
<path d="M138,1696 143.1,1699.1 151.5,1703.1 159.9,1706.4 173.3,1710.8 178.4,1713.8 182.6,1717.4 186,1721.5 191,1730.7 198.6,1749.6 201.9,1759.2 205.3,1772.3 207.8,1786.1 212.9,1826.8 220.4,1882 233.1,2002.5 234.7,2015.2 241.5,2053 249.9,2093 262.5,2175.1 266.7,2197.4 270.1,2209.8 276.8,2229.3 284.4,2248.2 289.4,2258.4 295.3,2267.3 302.9,2276.7 318,2292.7 328.1,2301.7 337.3,2308.3 347.4,2314 360,2319.3 371,2322.8 381.1,2325.1 391.2,2326.8 421.4,2329.7 439.1,2332.8 455.9,2334.7 481.1,2336.4 574.5,2337.3 722.5,2340.6 757,2344.3 857.1,2349.9 910.9,2354 919.3,2355.2 922.7,2356 934.4,2361.9 938.7,2363.4 952.1,2366 962.2,2366.8" fill="none" stroke="#7f7f7f" stroke-width="4.7" stroke-dasharray="4.4 8.2" stroke-linejoin="round"/>
<path d="M121.2,1746.5 125.4,1753.8 129.6,1760 141.4,1772.5 147.3,1780.8 159,1801.5 170.8,1825.6 181.8,1850 189.3,1870.4 196,1893.8 202.8,1923.3 211.2,1972.4 213.7,1989.2 220.4,2051.5 223,2087.2 225.5,2144.3 228,2186.1 229.7,2227.9 234.7,2311.5 237.3,2336.3 239.8,2353.6 241.5,2361.4 243.1,2365.7 244,2366.8" fill="none" stroke="#e377c2" stroke-width="4.7" stroke-dasharray="4.4 8.2" stroke-linejoin="round"/>
<path d="M121.2,1760 147.3,1780.9 163.2,1791.9 170.8,1798.9 176.7,1806.8 183.4,1818 187.6,1826.6 192.7,1839.2 201.9,1868.2 204.5,1878.7 207,1899.6 209.5,1942.1 212.9,1984.6 214.6,1999.4 217.1,2012.8 223.8,2040.5 232.2,2092.4 236.4,2113.3 241.5,2135 246.5,2153.1 253.2,2173.5 258.3,2186.3 267.5,2207 273.4,2223.9 278.5,2233.1 286.9,2244.7 291.9,2250.1 298.7,2255.1 307.9,2260.2 318.8,2264.6 349.1,2275.2 368.5,2281 381.1,2283.8 396.2,2286.4 446.7,2293.2 503,2298.5 522.4,2299.9 660.3,2303.7 791.5,2309.4 826,2312.1 868.8,2317.4 900,2322.8 958.8,2336.9 974.8,2341.7 1031.2,2360.2 1047.1,2364.7 1058.9,2366.8" fill="none" stroke="#9cf00e" stroke-width="4.7" stroke-dasharray="4.4 8.2" stroke-linejoin="round"/>
<path d="M121.2,1787 122,1789 122.9,1793.7 125.4,1854.4 127.1,1862.8 128.8,1868.1 132.1,1873.7 135.5,1876.9 140.5,1880.3 152.3,1886.8 162.4,1895 166.6,1897.1 179.2,1901.6 186.8,1906.7 196,1908.3 234.7,1911.6 249.9,1914.2 259.1,1916.4 278.5,1922.7 314.6,1929.7 318,1931 319.7,1932 323.9,1936.7 325.6,1940.3 328.9,1951.5 336.5,1981.1 344.1,2007.6 356.7,2043.3 367.6,2084.5 371.8,2098.7 378.5,2118 387,2137.6 388.6,2140.3 392,2143.9 395.4,2146.6 399.6,2149.1 408.8,2152.8 419.8,2155.3 424,2156.6 429.8,2159.3 434.9,2162.2 439.1,2165.6 442.5,2169.3 444.1,2171.9 446.7,2177.5 451.7,2192 464.3,2238 482.8,2328.8 483.7,2331.7 486.2,2336.9 488.7,2340.3 491.2,2342.7 495.4,2345.9 499.6,2348.2 509.7,2351.7 522.4,2354.3 541.7,2356.3 596.4,2360 643.5,2362.5 794,2366.8" fill="none" stroke="#b2966e" stroke-width="4.7" stroke-dasharray="17.7 7.7" stroke-linejoin="round"/>
<path d="M121.2,1753.3 125.4,1805.9 127.9,1826.7 129.6,1836.9 133,1852.1 135.5,1859.8 138.9,1866.2 143.9,1872.4 149.8,1877.4 157.4,1882.1 191.8,1896.8 197.7,1898.4 212.9,1901.2 223.8,1903.8 284.4,1921 313.8,1928.3 324.7,1932.2 333.1,1936.9 337.3,1940.1 341.5,1944.4 345.7,1949.7 350,1956.6 354.2,1965.8 365.1,1997.3 376,2019.1 380.2,2026.1 389.5,2037.1 400.4,2047.5 408,2053.1 418.1,2058 422.3,2060.7 426.5,2064.5 431.5,2070.6 434.1,2075.6 435.7,2081.2 438.3,2092.4 439.9,2102.1 446.7,2149 450,2182.1 453.4,2207 455.9,2234 463.5,2279.2 469.4,2308.8 477.8,2336.9 478.6,2338.5 482,2340.8 486.2,2342.5 508.1,2349.1 519.8,2351.5 551,2355.2 615.7,2360.5 651,2362.6 688,2364 759.5,2365.6 836,2366.8" fill="none" stroke="#d62728" stroke-width="4.7" stroke-dasharray="17.7 7.7" stroke-linejoin="round"/>
<path d="M121.2,1719.6 127.1,1733.9 135.5,1752.3 138.9,1759 141.4,1763 145.6,1767.5 151.5,1772.1 163.2,1779.4 173.3,1784.7 181.8,1788.4 191,1791.7 215.4,1798.7 244.8,1805.5 276.8,1811.7 297,1817 304.5,1820 331.4,1832.8 339.9,1836.2 350.8,1839.4 395.4,1850.5 415.6,1856.8 423.1,1860 427.3,1862.5 430.7,1865.8 433.2,1869.5 436.6,1876.5 439.9,1888.8 442.5,1909.7 448.3,1947.7 449.2,1955.5 455.1,2040.5 457.6,2061.4 461,2112.9 476.1,2258.9 478.6,2290.6 481.1,2307.8 484.5,2321.6 487.9,2331 489.6,2333.8 492.1,2336.4 496.3,2339.6 502.2,2342.1 508.9,2343.8 525.7,2346.9 553.5,2350.9 622.4,2358.8 651.9,2361 688,2362.9 741.9,2364.8 794,2366.1" fill="none" stroke="#2ca02c" stroke-width="4.7" stroke-dasharray="17.7 7.7" stroke-linejoin="round"/>
<path d="M121.2,1719.6 122.9,1726.3 126.2,1735 128.8,1740 131.3,1743.2 135.5,1746.4 139.7,1748.8 156.5,1755.7 174.2,1762.4 187.6,1768 193.5,1769.9 201.1,1771.5 215.4,1773.6 234.7,1776 242.3,1777.5 244.8,1778.9 251.6,1784.5 256.6,1786.6 261.6,1788 271.7,1789.6 306.2,1792.7 319.7,1795.2 325.6,1797.1 328.1,1798.4 331.4,1801.1 334.8,1804.9 338.2,1811.4 340.7,1819.1 348.3,1857.8 364.2,1976.6 371,2018.8 376,2042.4 384.4,2069.5 387.8,2077.3 391.2,2083.8 394.5,2088.5 398.7,2093 405.5,2098.1 413,2102 424.8,2109.3 434.9,2114.7 439.9,2119 445.8,2126.1 450,2133.3 455.1,2144.3 466,2173.8 477.8,2201.4 481.1,2207.1 485.4,2213 492.1,2221.3 495.4,2224.5 503,2229.1 512.3,2232.7 525.7,2236.2 547.6,2240.4 561,2244 592.2,2254.4 628.3,2264.1 635.9,2266.8 643.5,2270.4 653.6,2276.5 658.6,2280.4 662.8,2284.3 675.4,2299.8 692.2,2322 699.8,2330.1 704,2333.8 707.4,2336 716.6,2339.6 729.2,2342.8 741,2345.2 750.3,2346.5 764.6,2347.8 809.1,2350.2 891.6,2353.2 910.9,2354.3 921.8,2355.9 948.7,2360.9 960.5,2363.6 970.6,2366.8" fill="none" stroke="#17becf" stroke-width="4.7" stroke-dasharray="17.7 7.7" stroke-linejoin="round"/>
<path d="M121.2,1739.8 138,1747.5 155.7,1754.3 173.3,1760 196.9,1766.6 216.2,1769.9 262.5,1775 276.8,1777 307.9,1783 323.9,1787 331.4,1789.7 337.3,1792.7 344.9,1797.7 354.2,1805.9 365.1,1811.7 373.5,1814.8 384.4,1817.7 395.4,1820 417.2,1823.3 428.2,1826.3 434.9,1829.1 440.8,1832.3 446.7,1836.9 452.6,1842.7 457.6,1849.3 462.6,1857.1 466,1863.2 469.4,1870.5 473.6,1883.1 478.6,1904.3 481.1,1919.7 487,1968.3 489.6,1993.3 496.3,2033.1 498.8,2050.6 502.2,2084.6 504.7,2105.5 510.6,2148 514.8,2170 518.2,2180.4 520.7,2185.7 523.2,2189.9 529.9,2197.9 534.1,2201.7 538.3,2204.9 546.7,2209.7 556,2213.7 566.9,2217.4 579.5,2220.7 600.6,2225 630,2230.1 658.6,2237 681.3,2241.6 694.8,2244 729.2,2248.9 750.3,2252.7 763.7,2255.9 799.9,2265.9 814.2,2271.2 845.3,2284.6 857.1,2290.1 867.2,2295.3 876.4,2300.7 889.9,2310.6 899.1,2314.9 905.9,2317.2 912.6,2318.6 949.6,2324 961.4,2326 974,2329 986.6,2332.7 996.7,2336.5 1006.8,2341.2 1023.6,2351.5 1035.4,2358.2 1044.6,2362.7 1054.7,2366.8" fill="none" stroke="#bcbd22" stroke-width="4.7" stroke-dasharray="17.7 7.7" stroke-linejoin="round"/>
<path d="M196.9,1693.6 310.4,1694.9 415.6,1696.7 429.8,1697.5 434.1,1699 439.1,1702 442.5,1705.9 447.5,1713.4 455.1,1726.3 462.6,1737.4 466,1743.2 469.4,1750.3 472.7,1759 475.3,1766.9 477.8,1776.9 481.1,1793.7 484.5,1816 519,2071.5 521.5,2085.3 523.2,2090.6 526.6,2097.1 531.6,2103.3 538.3,2109 547.6,2114.6 559.4,2119.7 573.7,2123.6 579.5,2125.8 592.2,2132.7 603.1,2139.6 608.1,2142.3 619.1,2146.4 642.6,2153.8 648.5,2156.4 653.6,2159.8 660.3,2165.4 672.1,2177.8 688.9,2196.8 691.4,2198.9 695.6,2201.4 705.7,2205.6 724.2,2211.7 751.1,2221.8 794,2236.3 801.6,2239.3 806.6,2241.8 839.4,2263 878.9,2286.2 885.7,2291.2 905.9,2308.7 909.2,2311 914.3,2313.7 919.3,2315.9 923.5,2317.1 944.5,2320 952.9,2321.7 993.3,2332.3 1008.5,2336.9 1017.7,2340.4 1024.4,2343.8 1036.2,2351.2 1045.5,2357.9 1049.7,2360.2 1060.6,2364.5 1071.5,2366.8" fill="none" stroke="#7f7f7f" stroke-width="4.7" stroke-dasharray="17.7 7.7" stroke-linejoin="round"/>
<path d="M424,1692.6 450.3,1692.6 454.5,1693.4 459.6,1695.5 462.1,1699 467.2,1711.3 468.9,1716.7 470.6,1724.7 474.9,1762 477.4,1789.3 479.1,1814.1 483.4,1892.3 485.1,1945.2 488.7,2024.3 491.2,2103.9 494.4,2183.6 496.1,2216.9 502,2289.1 506.4,2327.7 508.8,2342 512.2,2358.6 513.1,2361.3 514.8,2364.1 516.5,2366.1 518.2,2366.8" fill="none" stroke="#e377c2" stroke-width="4.7" stroke-dasharray="17.7 7.7" stroke-linejoin="round"/>
<path d="M121.2,1712.8 122.9,1718.2 127.1,1721.2 132.1,1723.6 138,1725.3 149.8,1727.7 168.3,1732.6 181.8,1735.5 202.8,1738.7 221.3,1740.8 280.1,1743.9 297.8,1745.2 309.6,1746.8 322.2,1749.3 331.4,1751.7 337.3,1753.8 347.4,1758.4 355.8,1763.7 365.1,1766.8 373.5,1768.6 384.4,1770.4 418.1,1774.4 428.2,1776.8 434.9,1779.4 440.8,1782.3 445.8,1786.1 450.9,1791 454.2,1795.6 457.6,1801.5 466,1819.4 471.9,1836.1 476.9,1855.4 480.3,1872.6 482.8,1888.2 492.9,1962.3 501.3,2014.2 510.6,2091.8 513.9,2114 518.2,2133.3 521.5,2144.1 524,2150.6 525.7,2153.9 528.2,2157.1 531.6,2160.5 535,2163.1 542.5,2167.7 548.4,2170.7 572.8,2180.7 603.1,2191.8 651.9,2207.9 670.4,2215.1 691.4,2223.9 705.7,2228.2 765.4,2244 793.2,2252.2 805.8,2256.5 816.7,2261.1 833.5,2269 857.9,2281.9 876.4,2293.3 889,2303 896.6,2308.2 905,2312.9 911.7,2315.3 921,2317.8 947.1,2323.2 972.3,2329.7 992.5,2334.2 1000,2336.3 1007.6,2339.4 1020.2,2345.6 1049.7,2361.5 1056.4,2364.4 1063.1,2366.8" fill="none" stroke="#9cf00e" stroke-width="4.7" stroke-dasharray="17.7 7.7" stroke-linejoin="round"/>
<path d="M121.2,1712.8 125.4,1726.3 130.5,1740.1 132.1,1747 139.7,1795.1 159,1937.4 162.4,1956.2 172.5,2006.2 175.9,2021.2 179.2,2032.8 184.3,2044.5 191,2065.2 195.2,2075.3 200.3,2085.6 207.8,2099.4 213.7,2108.9 218.8,2115.7 226.3,2124.4 234.7,2132.3 244.8,2140.1 255.8,2147.2 266.7,2152.8 276.8,2156.8 286,2159.5 306.2,2164.2 312.1,2166.2 317.2,2168.9 326.4,2174.6 343.2,2187.3 350.8,2194.2 361.7,2205.7 392.8,2241.7 424,2281.2 434.9,2295.7 441.6,2303.3 447.5,2309.2 453.4,2314.4 471.1,2328.3 482,2337.8 492.1,2344.7 501.3,2349.6 509.7,2352.6 535,2359.3 545.1,2361.3 560.2,2362.9 599.7,2365.7 642.6,2366.8" fill="none" stroke="#b2966e" stroke-width="4.7" stroke-linejoin="round"/>
<path d="M121.2,1753.3 126.2,1800.2 128.8,1815.2 131.3,1826.7 137.2,1849.3 150.6,1893 153.2,1903.5 156.5,1920.5 162.4,1938.1 167.5,1965.6 173.3,1983.2 179.2,2003.4 185.1,2021.8 200.3,2064.2 207.8,2084.2 223.8,2124.1 236.4,2153.1 247.4,2179.9 253.2,2192.4 259.1,2203.4 276.8,2232.7 285.2,2244.5 295.3,2257.3 300.3,2262.5 309.6,2269.7 321.4,2276.7 332.3,2282.4 350,2290.2 371.8,2300.7 395.4,2311.4 439.9,2332.9 457.6,2342.1 471.9,2348.7 479.5,2351.3 503,2358.2 518.2,2361.2 562.7,2365.9 592.2,2366.8" fill="none" stroke="#d62728" stroke-width="4.7" stroke-linejoin="round"/>
<path d="M121.2,1692.6 134.7,1720.6 145.6,1741.5 154.8,1760.3 173.3,1805.9 179.2,1826.8 186,1847.7 191.8,1867.9 196.9,1888.8 202.8,1909.7 206.1,1926.7 208.7,1937.1 217.9,1969.6 225.5,1993.3 233.9,2022.5 241.5,2045.2 261.6,2098.3 271.7,2130.2 280.1,2155.1 286,2176 293.6,2213.6 297,2225.8 306.2,2252.7 312.9,2267.7 316.3,2276.3 325.6,2304.8 328.9,2313.1 332.3,2319.6 337.3,2326.3 344.1,2332.5 351.6,2337.7 363.4,2344.6 373.5,2351.2 381.1,2355.2 388.6,2358.5 397,2361.5 404.6,2363.6 414.7,2365.5 421.4,2366.1 541.7,2366.8" fill="none" stroke="#2ca02c" stroke-width="4.7" stroke-linejoin="round"/>
<path d="M121.2,1692.6 127.9,1692.8 134.7,1693.6 142.2,1695.3 143.1,1696.1 144.7,1700.3 154,1730.7 159,1743.8 166.6,1760 179.2,1782.3 185.1,1791.5 205.3,1819.2 221.3,1843 227.2,1852.6 243.1,1881.2 252.4,1895.8 260,1905.7 275.9,1922.6 280.1,1927.7 288.6,1940 297,1954.3 302,1961.1 308.7,1968.3 317.2,1974.1 327.2,1979.3 347.4,1988 356.7,1992.7 361.7,1995.9 365.9,1999.8 372.7,2007.5 387,2027.6 399.6,2046.6 405.5,2057.2 410.5,2067.5 420.6,2092.4 431.5,2117.3 448.3,2161.5 455.9,2177.7 474.4,2212 482.8,2225.9 493.8,2242.7 506.4,2265.1 512.3,2274.2 519.8,2284.7 524,2289.8 527.4,2292.9 563.6,2319.9 575.3,2327.3 587.1,2333.8 602.3,2340.9 615.7,2345.9 632.5,2350.8 650.2,2354.8 663.6,2357.1 677.1,2358.8 689.7,2359.9 706.5,2360.9 776.3,2363.2 920.2,2366.8" fill="none" stroke="#17becf" stroke-width="4.7" stroke-linejoin="round"/>
<path d="M121.2,1692.6 123.7,1693.3 126.2,1695.2 129.6,1699.1 132.1,1702.9 134.7,1710.2 145.6,1750.5 149.8,1763.4 154,1774.8 159,1786.6 164.9,1798.4 171.7,1810 178.4,1820.3 183.4,1826.8 188.5,1832.2 215.4,1856.5 232.2,1869.7 243.1,1877.2 251.6,1882.1 254.9,1884.7 256.6,1886.7 262.5,1895.5 273.4,1906.3 286,1920.8 291.1,1927.3 294.4,1932.6 312.9,1967.6 317.2,1976.4 334,2026.5 340.7,2043.2 343.2,2051.7 350.8,2082.3 356.7,2103.2 365.9,2138.6 373.5,2162.9 380.2,2179.3 382.8,2184.1 387,2190.8 391.2,2196.3 395.4,2200.9 421.4,2223.7 440.8,2239.4 450,2245.6 470.2,2258 485.4,2266.8 492.9,2270.4 523.2,2280.7 562.7,2290 590.5,2293.8 629.2,2300.1 688,2305.8 722.5,2308.4 752,2313 818.4,2320.8 893.2,2330.9 910.9,2333.9 923.5,2336.6 966.4,2350.3 986.6,2355.5 1012.7,2360.7 1050.5,2366.8" fill="none" stroke="#bcbd22" stroke-width="4.7" stroke-linejoin="round"/>
<path d="M121.2,1692.6 175,1692.8 178.4,1694 186.8,1698.3 192.7,1702 196,1705.3 200.3,1712.2 204.5,1722.3 211.2,1748.4 215.4,1762.7 220.4,1778 224.6,1794.6 237.3,1853.2 249,1925.5 251.6,1938.3 257.4,1958.1 265,1978.5 274.3,2005.6 279.3,2015.4 286,2025.5 307.1,2050.6 314.6,2060.6 332.3,2089 336.5,2096.4 341.5,2107.4 351.6,2131.9 376,2197.2 381.1,2208.2 387,2219.1 392.8,2228.2 402.9,2241.8 435.7,2281.5 441.6,2286.7 451.7,2293.8 473.6,2307.8 486.2,2315.2 493.8,2318.3 505.5,2322.2 543.4,2333.1 563.6,2337.9 588.8,2342.9 641.8,2358.3 661.1,2362.2 673.7,2363.7 693.9,2365.1 727.6,2366.4 752,2366.8" fill="none" stroke="#7f7f7f" stroke-width="4.7" stroke-linejoin="round"/>
<path d="M121.2,1692.6 125.4,1693.1 129.6,1694.5 134.7,1697.2 138.9,1700.1 140.5,1702.4 146.4,1712.8 154,1721.7 159.9,1726.9 169.1,1731.8 173.3,1735.1 175,1737.4 176.7,1740.8 180.1,1749.8 183.4,1764.1 186.8,1784.6 189.3,1796.2 197.7,1825.1 207,1851.7 211.2,1866 216.2,1888 218.8,1905.1 221.3,1929.9 225.5,1982.5 229.7,2056.7 238.1,2165.2 243.1,2240.9 244.8,2258.9 246.5,2268.7 257.4,2314.8 266.7,2349.8 270.1,2360.4 270.9,2361.4 273.4,2362 289.4,2363.6 305.4,2366.8" fill="none" stroke="#e377c2" stroke-width="4.7" stroke-linejoin="round"/>
<path d="M121.2,1692.6 129.6,1693.5 134.7,1695 136.3,1696 138.9,1701.7 147.3,1728.9 152.3,1739.4 155.7,1744.7 159.9,1750.3 174.2,1765 191,1786.3 195.2,1792.4 201.1,1803.2 217.1,1835.8 236.4,1872.2 257.4,1915.3 273.4,1941.1 289.4,1964.2 318,2012.6 322.2,2021.9 332.3,2048 336.5,2061.4 342.4,2082.3 361.7,2144.3 373.5,2173.2 380.2,2187.2 394.5,2210.3 400.4,2218.6 433.2,2257.4 439.9,2264.2 446.7,2269.6 455.9,2275.6 466,2281.3 485.4,2290.8 496.3,2295.1 509.7,2299.2 544.2,2307.8 559.4,2310.9 576.2,2313.9 600.6,2317.4 629.2,2320.3 648.5,2322.9 720.8,2327.8 751.1,2331.1 802.4,2335.7 849.5,2340.5 900,2346.9 945.4,2353.9 979.9,2358.6 1017.7,2363.3 1050.5,2366.8" fill="none" stroke="#9cf00e" stroke-width="4.7" stroke-linejoin="round"/>
<path d="M499.6,1693.6 604.3,1693.9 707.7,1694.7 748.1,1695.8 787.1,1697.9 820.8,1701.8 860.5,1708.6 921.4,1715.8 941.3,1718.8 951.4,1721.2 958.8,1724 966.8,1728.6 971.2,1732.8 979.6,1742.9 983,1747.5 986.4,1753.6 989.4,1760.7 992.1,1769.2 999.1,1799.2 1002.5,1817.1 1009.3,1869.2 1016,1931.3 1021,2003.5 1024.7,2044 1028.4,2106.2 1031.5,2139.9 1035.5,2177.4 1038.5,2213.3 1041.2,2233.6 1049.3,2282.3 1053.3,2298.1 1062.4,2324.4 1067.1,2336.7 1072.5,2348.2 1077.9,2355.7 1083,2360.7 1090.7,2365.1 1093.7,2366.3 1096.8,2366.8" fill="none" stroke="#8b5145" stroke-width="3.8" stroke-dasharray="3.8 6.2" stroke-linejoin="round"/>
<path d="M760.4,1692.6 936.6,1692.6 942.7,1693.9 949.1,1696.6 952.8,1700.3 957.2,1706.9 960.2,1714.3 962.2,1722.1 969.3,1772.9 973,1807.5 976.3,1846.6 980.7,1887.4 985.4,1939 994.8,2024.6 1003.6,2092.9 1009.3,2131.6 1015.4,2167.6 1021.7,2201.7 1030.5,2244.3 1037.2,2270.2 1045,2293.4 1050,2305.6 1058.7,2324.9 1062.8,2333 1067.8,2341.7 1071.5,2347.4 1075.2,2352 1079.9,2356.8 1084.3,2360.3 1089.4,2363.3 1093.4,2365 1099.8,2366.3 1105.2,2366.8" fill="none" stroke="#8b5145" stroke-width="3.8" stroke-dasharray="14 6" stroke-linejoin="round"/>
<path d="M752,1692.6 787.6,1692.8 822.3,1695.8 909.8,1708.1 925.6,1710.8 936.1,1713 942.8,1715 949.5,1717.8 956.9,1721.8 962.6,1725.9 966,1729.2 970.1,1734.4 975.4,1742.4 978.8,1748.8 980.8,1754.1 987.2,1774.7 989.9,1785.4 997.7,1838.8 1008.1,1971.7 1012.8,2052.2 1019.2,2145.3 1022.6,2182.6 1030,2250.6 1033,2286.7 1034.3,2298.3 1041.1,2335.6 1043.4,2344.4 1046.1,2352 1049.2,2357.1 1052.9,2361.3 1059.2,2365.5 1061.6,2366.4 1064,2366.8" fill="none" stroke="#8b5145" stroke-width="3.8" stroke-linejoin="round"/>
<path d="M121.2,1692.6 785.6,1692.6" fill="none" stroke="#a35516" stroke-width="4.2" stroke-linejoin="round"/>
<path d="M121.2,1658.7 V2366.8 M120.2,2366.8 H1455" fill="none" stroke="#333333" stroke-width="2.3"/>
<path d="M121.2,2366.8 v9" stroke="#333333" stroke-width="2"/>
<text x="121.2" y="2403" font-size="24.6" text-anchor="middle" font-family='"DejaVu Sans", "Liberation Sans", sans-serif' fill="#1a1a1a" stroke="#1a1a1a" stroke-width="0.35">0</text>
<path d="M289.4,2366.8 v9" stroke="#333333" stroke-width="2"/>
<text x="289.4" y="2403" font-size="24.6" text-anchor="middle" font-family='"DejaVu Sans", "Liberation Sans", sans-serif' fill="#1a1a1a" stroke="#1a1a1a" stroke-width="0.35">2</text>
<path d="M457.6,2366.8 v9" stroke="#333333" stroke-width="2"/>
<text x="457.6" y="2403" font-size="24.6" text-anchor="middle" font-family='"DejaVu Sans", "Liberation Sans", sans-serif' fill="#1a1a1a" stroke="#1a1a1a" stroke-width="0.35">4</text>
<path d="M625.8,2366.8 v9" stroke="#333333" stroke-width="2"/>
<text x="625.8" y="2403" font-size="24.6" text-anchor="middle" font-family='"DejaVu Sans", "Liberation Sans", sans-serif' fill="#1a1a1a" stroke="#1a1a1a" stroke-width="0.35">6</text>
<path d="M794.0,2366.8 v9" stroke="#333333" stroke-width="2"/>
<text x="794.0" y="2403" font-size="24.6" text-anchor="middle" font-family='"DejaVu Sans", "Liberation Sans", sans-serif' fill="#1a1a1a" stroke="#1a1a1a" stroke-width="0.35">8</text>
<path d="M962.2,2366.8 v9" stroke="#333333" stroke-width="2"/>
<text x="962.2" y="2403" font-size="24.6" text-anchor="middle" font-family='"DejaVu Sans", "Liberation Sans", sans-serif' fill="#1a1a1a" stroke="#1a1a1a" stroke-width="0.35">10</text>
<path d="M1130.4,2366.8 v9" stroke="#333333" stroke-width="2"/>
<text x="1130.4" y="2403" font-size="24.6" text-anchor="middle" font-family='"DejaVu Sans", "Liberation Sans", sans-serif' fill="#1a1a1a" stroke="#1a1a1a" stroke-width="0.35">12</text>
<path d="M1298.6,2366.8 v9" stroke="#333333" stroke-width="2"/>
<text x="1298.6" y="2403" font-size="24.6" text-anchor="middle" font-family='"DejaVu Sans", "Liberation Sans", sans-serif' fill="#1a1a1a" stroke="#1a1a1a" stroke-width="0.35">14</text>
<path d="M121.2,2366.8 h-9" stroke="#333333" stroke-width="2"/>
<text x="103.6" y="2375.8" font-size="24.6" text-anchor="end" font-family='"DejaVu Sans", "Liberation Sans", sans-serif' fill="#1a1a1a" stroke="#1a1a1a" stroke-width="0.35">0</text>
<path d="M121.2,2232.0 h-9" stroke="#333333" stroke-width="2"/>
<text x="103.6" y="2240.9" font-size="24.6" text-anchor="end" font-family='"DejaVu Sans", "Liberation Sans", sans-serif' fill="#1a1a1a" stroke="#1a1a1a" stroke-width="0.35">20</text>
<path d="M121.2,2097.1 h-9" stroke="#333333" stroke-width="2"/>
<text x="103.6" y="2106.1" font-size="24.6" text-anchor="end" font-family='"DejaVu Sans", "Liberation Sans", sans-serif' fill="#1a1a1a" stroke="#1a1a1a" stroke-width="0.35">40</text>
<path d="M121.2,1962.3 h-9" stroke="#333333" stroke-width="2"/>
<text x="103.6" y="1971.3" font-size="24.6" text-anchor="end" font-family='"DejaVu Sans", "Liberation Sans", sans-serif' fill="#1a1a1a" stroke="#1a1a1a" stroke-width="0.35">60</text>
<path d="M121.2,1827.4 h-9" stroke="#333333" stroke-width="2"/>
<text x="103.6" y="1836.4" font-size="24.6" text-anchor="end" font-family='"DejaVu Sans", "Liberation Sans", sans-serif' fill="#1a1a1a" stroke="#1a1a1a" stroke-width="0.35">80</text>
<path d="M121.2,1692.6 h-9" stroke="#333333" stroke-width="2"/>
<text x="103.6" y="1701.6" font-size="24.6" text-anchor="end" font-family='"DejaVu Sans", "Liberation Sans", sans-serif' fill="#1a1a1a" stroke="#1a1a1a" stroke-width="0.35">100</text>
<text transform="translate(40.5,2013.6) rotate(-90)" font-size="24.4" text-anchor="middle" font-family='"DejaVu Sans", "Liberation Sans", sans-serif' fill="#1a1a1a" stroke="#1a1a1a" stroke-width="0.35">Percent Volume (%)</text>
<text x="787" y="2436.6" font-size="24.4" text-anchor="middle" font-family='"DejaVu Sans", "Liberation Sans", sans-serif' fill="#1a1a1a" stroke="#1a1a1a" stroke-width="0.35">Dose (Gy)</text>
<text x="616" y="1647.6" font-size="52.5" text-anchor="start" font-family='"Liberation Sans", "DejaVu Sans", sans-serif' fill="#0a0a0a" stroke="#0a0a0a" stroke-width="0.6" textLength="140.5" lengthAdjust="spacingAndGlyphs">Spine</text>
<path d="M573.3,1739.6 H505" stroke="#e273c4" stroke-width="3.6" fill="none"/><path d="M484,1739.6 l23,-10.75 v21.5 z" fill="#e273c4"/>
<text x="602" y="1750.3" font-size="32.3" text-anchor="start" font-family='"Liberation Sans", "DejaVu Sans", sans-serif' fill="#0a0a0a" stroke="#0a0a0a" stroke-width="0.6" textLength="111" lengthAdjust="spacingAndGlyphs">Spleen</text>
<path d="M597,1890.2 H531.4" stroke="#808080" stroke-width="3.6" fill="none"/><path d="M510,1890.2 l23.4,-11.4 v22.8 z" fill="#808080"/>
<text x="625.8" y="1900.9" font-size="33" text-anchor="start" font-family='"Liberation Sans", "DejaVu Sans", sans-serif' fill="#0a0a0a" stroke="#0a0a0a" stroke-width="0.6" textLength="116" lengthAdjust="spacingAndGlyphs">Lt Lung</text>
<text x="860.5" y="1965.1" font-size="32.5" text-anchor="start" font-family='"Liberation Sans", "DejaVu Sans", sans-serif' fill="#0a0a0a" stroke="#0a0a0a" stroke-width="0.6" textLength="90" lengthAdjust="spacingAndGlyphs">Heart</text>
<path d="M916.6,1992.4 V2026" stroke="#1da1e6" stroke-width="3.8" fill="none"/><path d="M916.6,2046 l-11.5,-22 h23 z" fill="#1da1e6"/>
<text x="666.2" y="2088.7" font-size="32.5" text-anchor="start" font-family='"Liberation Sans", "DejaVu Sans", sans-serif' fill="#0a0a0a" stroke="#0a0a0a" stroke-width="0.6" textLength="75" lengthAdjust="spacingAndGlyphs">Liver</text>
<path d="M705.4,2116.8 V2155" stroke="#b07d48" stroke-width="3.8" fill="none"/><path d="M705.4,2175 l-11.5,-22 h23 z" fill="#b07d48"/>
<rect x="1256.1" y="1687.5" width="290.8000000000002" height="412.9000000000001" fill="#fff" stroke="#d3d3d8" stroke-width="2"/>
<path d="M1270.3,1712.7 H1341" stroke="#8b5145" stroke-width="4.4"/>
<text x="1360.7" y="1716.4" font-size="19.6" font-family='"DejaVu Sans", "Liberation Sans", sans-serif' fill="#111" stroke="#111" stroke-width="0.55" textLength="171" lengthAdjust="spacingAndGlyphs">4<tspan font-style="italic">π</tspan>-RABOO (PTV)</text>
<path d="M1270.3,1755.6 H1344.4" stroke="#8b5145" stroke-width="4.4" stroke-dasharray="19.5 16"/>
<text x="1360.7" y="1759.6" font-size="19.6" font-family='"DejaVu Sans", "Liberation Sans", sans-serif' fill="#111" stroke="#111" stroke-width="0.55" textLength="63" lengthAdjust="spacingAndGlyphs">5F-RA</text>
<path d="M1270.3,1797 H1344.4" stroke="#8b5145" stroke-width="4.4" stroke-dasharray="4.2 4.7"/>
<text x="1362.9" y="1802" font-size="19.6" font-family='"DejaVu Sans", "Liberation Sans", sans-serif' fill="#111" stroke="#111" stroke-width="0.55" textLength="61" lengthAdjust="spacingAndGlyphs">5F-FA</text>
<path d="M1270.3,1837.8 H1344.4" stroke="#17becf" stroke-width="4.4"/>
<text x="1364" y="1843.2" font-size="21.4" font-family='"Liberation Sans", "DejaVu Sans", sans-serif' fill="#111" stroke="#111" stroke-width="0.55" textLength="57.6" lengthAdjust="spacingAndGlyphs">Heart</text>
<path d="M1270.3,1873.3 H1344.4" stroke="#2ca02c" stroke-width="4.4"/>
<text x="1364" y="1878.7" font-size="21.4" font-family='"Liberation Sans", "DejaVu Sans", sans-serif' fill="#111" stroke="#111" stroke-width="0.55" textLength="81" lengthAdjust="spacingAndGlyphs">Kidneys</text>
<path d="M1270.3,1911.4 H1344.4" stroke="#9cf00e" stroke-width="4.4"/>
<text x="1364.6" y="1919" font-size="21.4" font-family='"Liberation Sans", "DejaVu Sans", sans-serif' fill="#111" stroke="#111" stroke-width="0.55" textLength="61.7" lengthAdjust="spacingAndGlyphs">Lungs</text>
<path d="M1270.3,1948.4 H1344.4" stroke="#e377c2" stroke-width="4.4"/>
<text x="1366.5" y="1956.7" font-size="21.4" font-family='"Liberation Sans", "DejaVu Sans", sans-serif' fill="#111" stroke="#111" stroke-width="0.55" textLength="72.2" lengthAdjust="spacingAndGlyphs">Spleen</text>
<path d="M1270.3,1987.2 H1344.4" stroke="#7f7f7f" stroke-width="4.4"/>
<text x="1368.5" y="1995.2" font-size="21.4" font-family='"Liberation Sans", "DejaVu Sans", sans-serif' fill="#111" stroke="#111" stroke-width="0.55" textLength="75.5" lengthAdjust="spacingAndGlyphs">Lt Lung</text>
<path d="M1270.3,2031.6 H1344.4" stroke="#bcbd22" stroke-width="4.4"/>
<text x="1367.5" y="2039.5" font-size="21.4" font-family='"Liberation Sans", "DejaVu Sans", sans-serif' fill="#111" stroke="#111" stroke-width="0.55" textLength="77.5" lengthAdjust="spacingAndGlyphs">Rt Lung</text>
<path d="M1270.3,2075.4 H1344.4" stroke="#d62728" stroke-width="4.4"/>
<text x="1369.5" y="2083.9" font-size="21.4" font-family='"Liberation Sans", "DejaVu Sans", sans-serif' fill="#111" stroke="#111" stroke-width="0.55" textLength="63.7" lengthAdjust="spacingAndGlyphs">Bowel</text>
</svg>
</body>
</html>
